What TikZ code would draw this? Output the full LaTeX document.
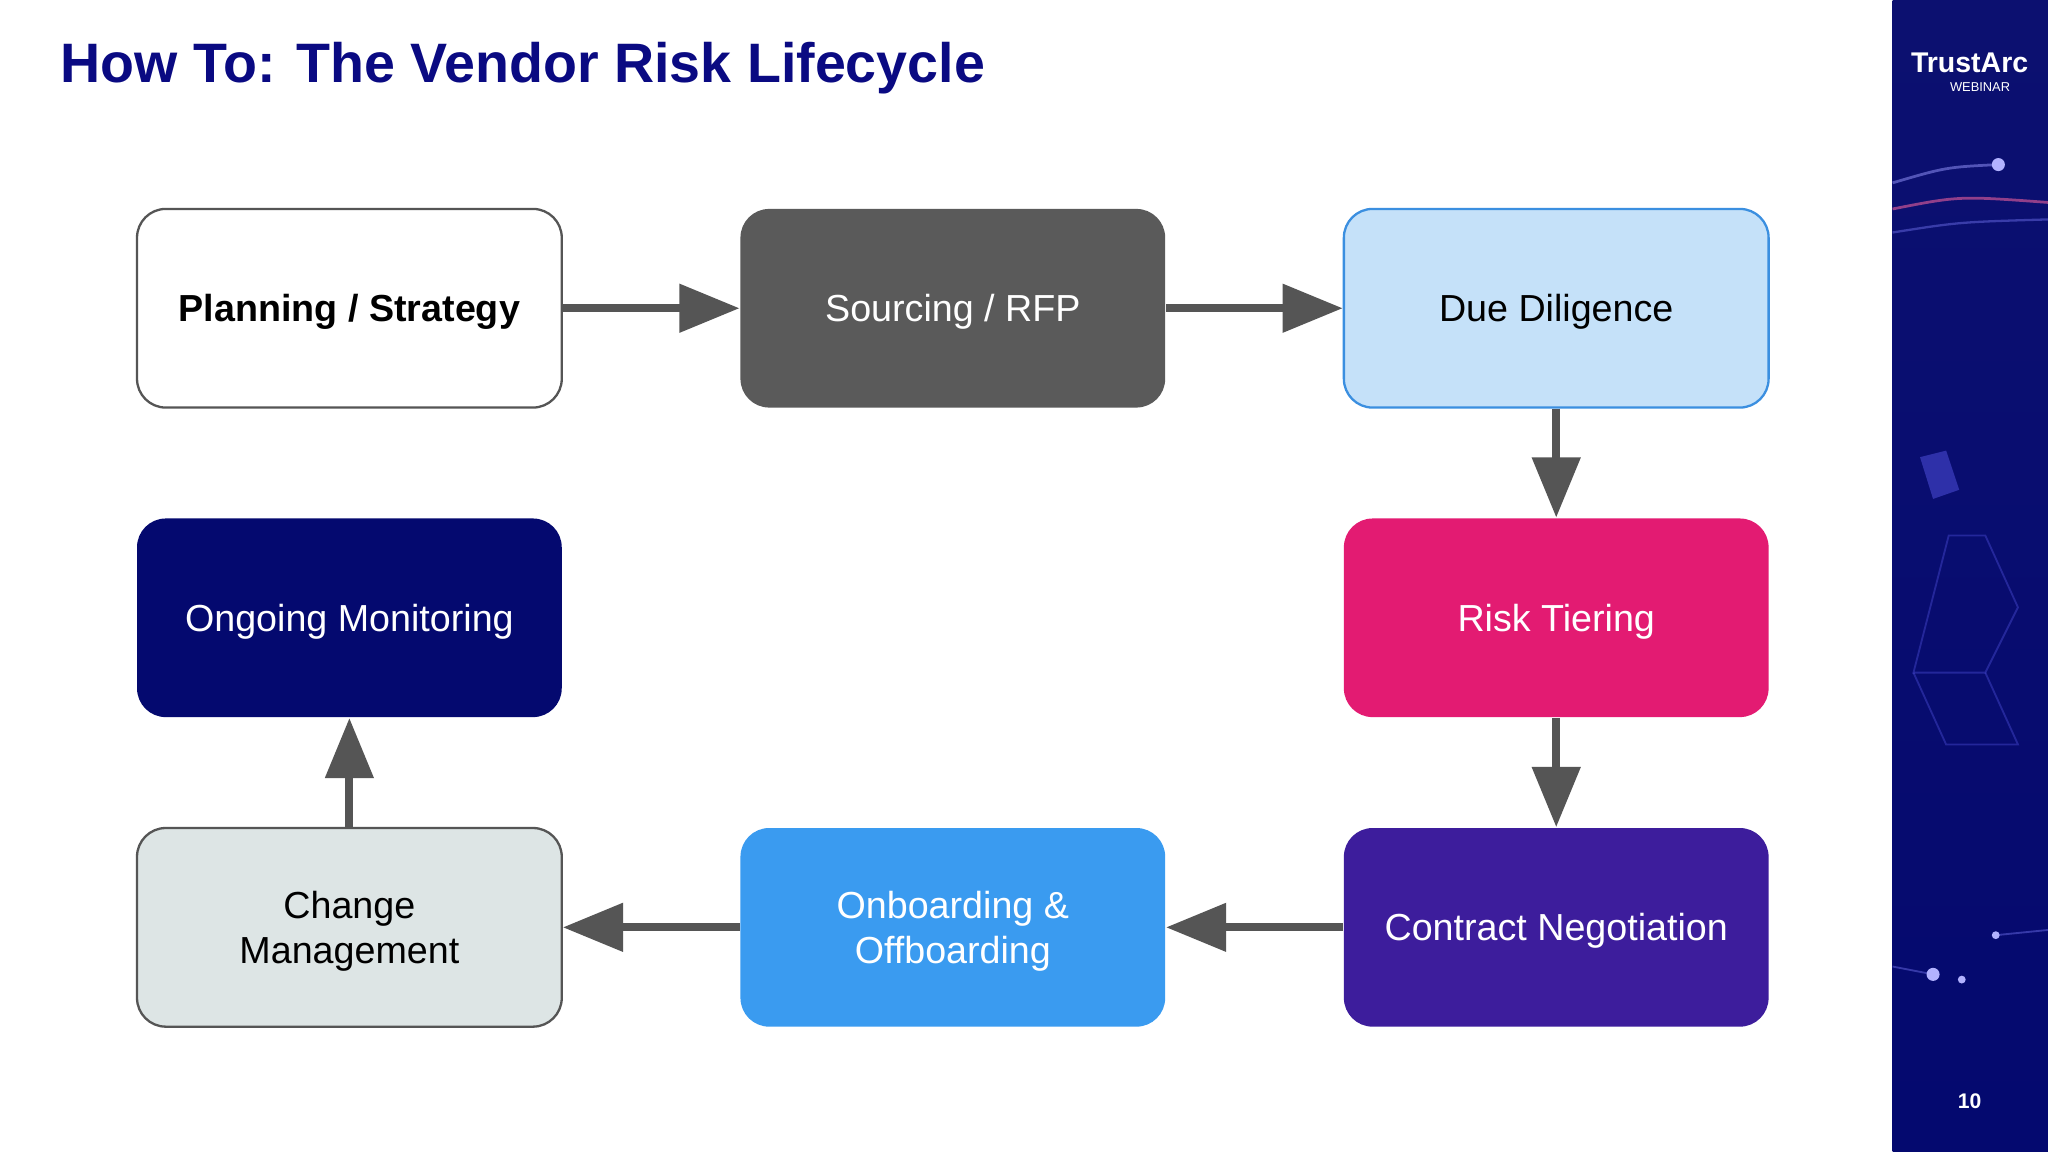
\documentclass[tikz,border=0pt]{standalone}
\usepackage{fontspec}
\setmainfont{Liberation Sans}
\usetikzlibrary{arrows.meta}
\definecolor{ttl}{HTML}{0A0A82}
\definecolor{grayb}{HTML}{5A5A5A}
\definecolor{duef}{HTML}{C5E1F9}
\definecolor{dueb}{HTML}{3B8FE0}
\definecolor{riskc}{HTML}{E31B72}
\definecolor{contc}{HTML}{3D1D9C}
\definecolor{ongc}{HTML}{04096F}
\definecolor{onbc}{HTML}{3A9BF0}
\definecolor{chgc}{HTML}{DDE5E5}
\definecolor{panel}{HTML}{0C1070}
\definecolor{arr}{HTML}{555555}
\tikzset{
 box/.style={rounded corners=0.22cm,minimum width=3.25cm,minimum height=1.52cm,align=center,font=\fontsize{8.2}{9.6}\selectfont,inner sep=0},
 ar/.style={draw=arr,line width=1.7pt,-{Triangle[length=0.46cm,width=0.36cm]}}
}
\begin{document}
\begin{tikzpicture}[x=0.01cm,y=-0.01cm]
\useasboundingbox (0,0) rectangle (1568,882);
\fill[white] (0,0) rectangle (1568,882);
\shade[top color=panel,bottom color=ongc] (1449,0) rectangle (1568,882);
\draw[white!60!blue,opacity=0.5,line width=0.6pt] (1449,140) .. controls (1490,128) .. (1530,126);
\fill[white!70!blue] (1530,126) circle (5);
\draw[riskc!70,opacity=0.6,line width=0.6pt] (1449,160) .. controls (1500,150) .. (1568,155);
\draw[white!50!blue,opacity=0.4,line width=0.5pt] (1449,178) .. controls (1500,170) .. (1568,168);
\draw[white!40!blue,opacity=0.3] (1465,515) -- (1492,410) -- (1520,410) -- (1545,465) -- (1520,515) -- cycle;
\draw[white!40!blue,opacity=0.3] (1465,515) -- (1490,570) -- (1545,570) -- (1520,515);
\fill[blue!60!white,opacity=0.4] (1470,350) -- (1490,345) -- (1500,375) -- (1480,382) -- cycle;
\draw[white!50!blue,opacity=0.4] (1449,740) -- (1480,746);
\fill[white!70!blue] (1480,746) circle (5);
\fill[white!70!blue] (1502,750) circle (3);
\draw[white!50!blue,opacity=0.4] (1528,716) -- (1568,712);
\fill[white!70!blue] (1528,716) circle (3);
\node[text=white,font=\bfseries\fontsize{6.2}{7}\selectfont] (logo) at (1508,48) {TrustArc};
\node[text=white,font=\fontsize{2.8}{3}\selectfont] (web) at (1516,67) {WEBINAR};
\node[text=white,font=\bfseries\fontsize{4.6}{5}\selectfont] (pg) at (1508,843) {10};
\node[text=ttl,anchor=west,font=\bfseries\fontsize{12.1}{14}\selectfont] (title) at (34,52) {How To: The Vendor Risk Lifecycle};
\begin{scope}[every node/.append style={text depth=0pt}]
\node[box,draw=arr,line width=0.5pt,fill=white,font=\bfseries\fontsize{8.2}{9.6}\selectfont] (plan) at (267.5,236) {Planning / Strategy};
\node[box,fill=grayb,text=white] (src) at (729.5,236) {Sourcing / RFP};
\node[box,draw=dueb,line width=0.5pt,fill=duef] (due) at (1191.5,236) {Due Diligence};
\node[box,fill=riskc,text=white] (risk) at (1191.5,473) {Risk Tiering};
\node[box,fill=contc,text=white] (cont) at (1191.5,710) {Contract Negotiation};
\node[box,fill=onbc,text=white] (onb) at (729.5,710) {Onboarding \&\\Offboarding};
\node[box,draw=arr,line width=0.5pt,fill=chgc] (chg) at (267.5,710) {Change\\Management};
\node[box,fill=ongc,text=white] (ong) at (267.5,473) {Ongoing Monitoring};
\end{scope}
\draw[ar] (plan) -- (src);
\draw[ar] (src) -- (due);
\draw[ar] (due) -- (risk);
\draw[ar] (risk) -- (cont);
\draw[ar] (cont) -- (onb);
\draw[ar] (onb) -- (chg);
\draw[ar] (chg) -- (ong);
\end{tikzpicture}
\end{document}
